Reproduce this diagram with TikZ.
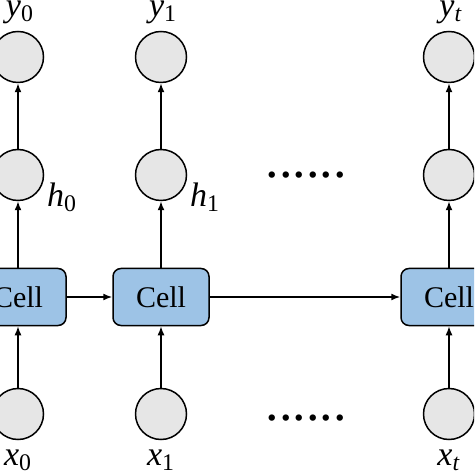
\documentclass[tikz,border=0pt]{standalone}
\usepackage{fontspec}
\setmainfont{Liberation Serif}
\usetikzlibrary{arrows.meta}

\definecolor{cellblue}{RGB}{157,195,230}
\definecolor{unitgray}{RGB}{230,230,230}

\tikzset{
    unit/.style={circle, draw, fill=unitgray, line width=0.75pt, minimum size=25.5pt, inner sep=0pt},
    cell/.style={rectangle, rounded corners=4pt, draw, fill=cellblue, line width=0.75pt,
        minimum width=48pt, minimum height=28.5pt, inner sep=0pt, font=\fontsize{15}{18}\selectfont},
    lbl/.style={font=\fontsize{17}{20}\selectfont},
    flow/.style={-{Latex[length=4.5pt,width=3.5pt]}, line width=0.75pt},
    dots/.style={anchor=base, inner sep=0pt, font=\fontsize{27}{32}\selectfont}
}

\begin{document}
\begin{tikzpicture}[x=0.5pt,y=-0.5pt]
                \useasboundingbox (0,0) rectangle (474,474);
                \clip (0,0) rectangle (474,474);

                % column 0
                \node[unit] (y0) at (18,57) {};
                \node[unit] (h0) at (18,175) {};
                \node[cell] (c0) at (18,297) {Cell};
                \node[unit] (x0) at (18,414) {};
                \node[lbl] (ly0) at (20,12) {\textit{y}\textsubscript{0}};
                \node[lbl] (lh0) at (62,197) {\textit{h}\textsubscript{0}};
                \node[lbl] (lx0) at (18,460) {\textit{x}\textsubscript{0}};

                % column 1
                \node[unit] (y1) at (161,57) {};
                \node[unit] (h1) at (161,175) {};
                \node[cell] (c1) at (161,297) {Cell};
                \node[unit] (x1) at (161,414) {};
                \node[lbl] (ly1) at (163,12) {\textit{y}\textsubscript{1}};
                \node[lbl] (lh1) at (205,197) {\textit{h}\textsubscript{1}};
                \node[lbl] (lx1) at (161,460) {\textit{x}\textsubscript{1}};

                % column t
                \node[unit] (yt) at (449,57) {};
                \node[unit] (ht) at (449,175) {};
                \node[cell] (ct) at (449,297) {Cell};
                \node[unit] (xt) at (449,414) {};
                \node[lbl] (lyt) at (451,12) {\textit{y}\textsubscript{\textit{t}}};
                \node[lbl] (lxt) at (449,460) {\textit{x}\textsubscript{\textit{t}}};

                \node[dots] (dh) at (306,178) {......};
                \node[dots] (dx) at (306,420) {......};

                \draw[flow] (x0) -- (c0);
                \draw[flow] (c0) -- (h0);
                \draw[flow] (h0) -- (y0);
                \draw[flow] (x1) -- (c1);
                \draw[flow] (c1) -- (h1);
                \draw[flow] (h1) -- (y1);
                \draw[flow] (xt) -- (ct);
                \draw[flow] (ct) -- (ht);
                \draw[flow] (ht) -- (yt);

                \draw[flow] (c0) -- (c1);
                \draw[flow] (c1) -- (ct);
\end{tikzpicture}
\end{document}
